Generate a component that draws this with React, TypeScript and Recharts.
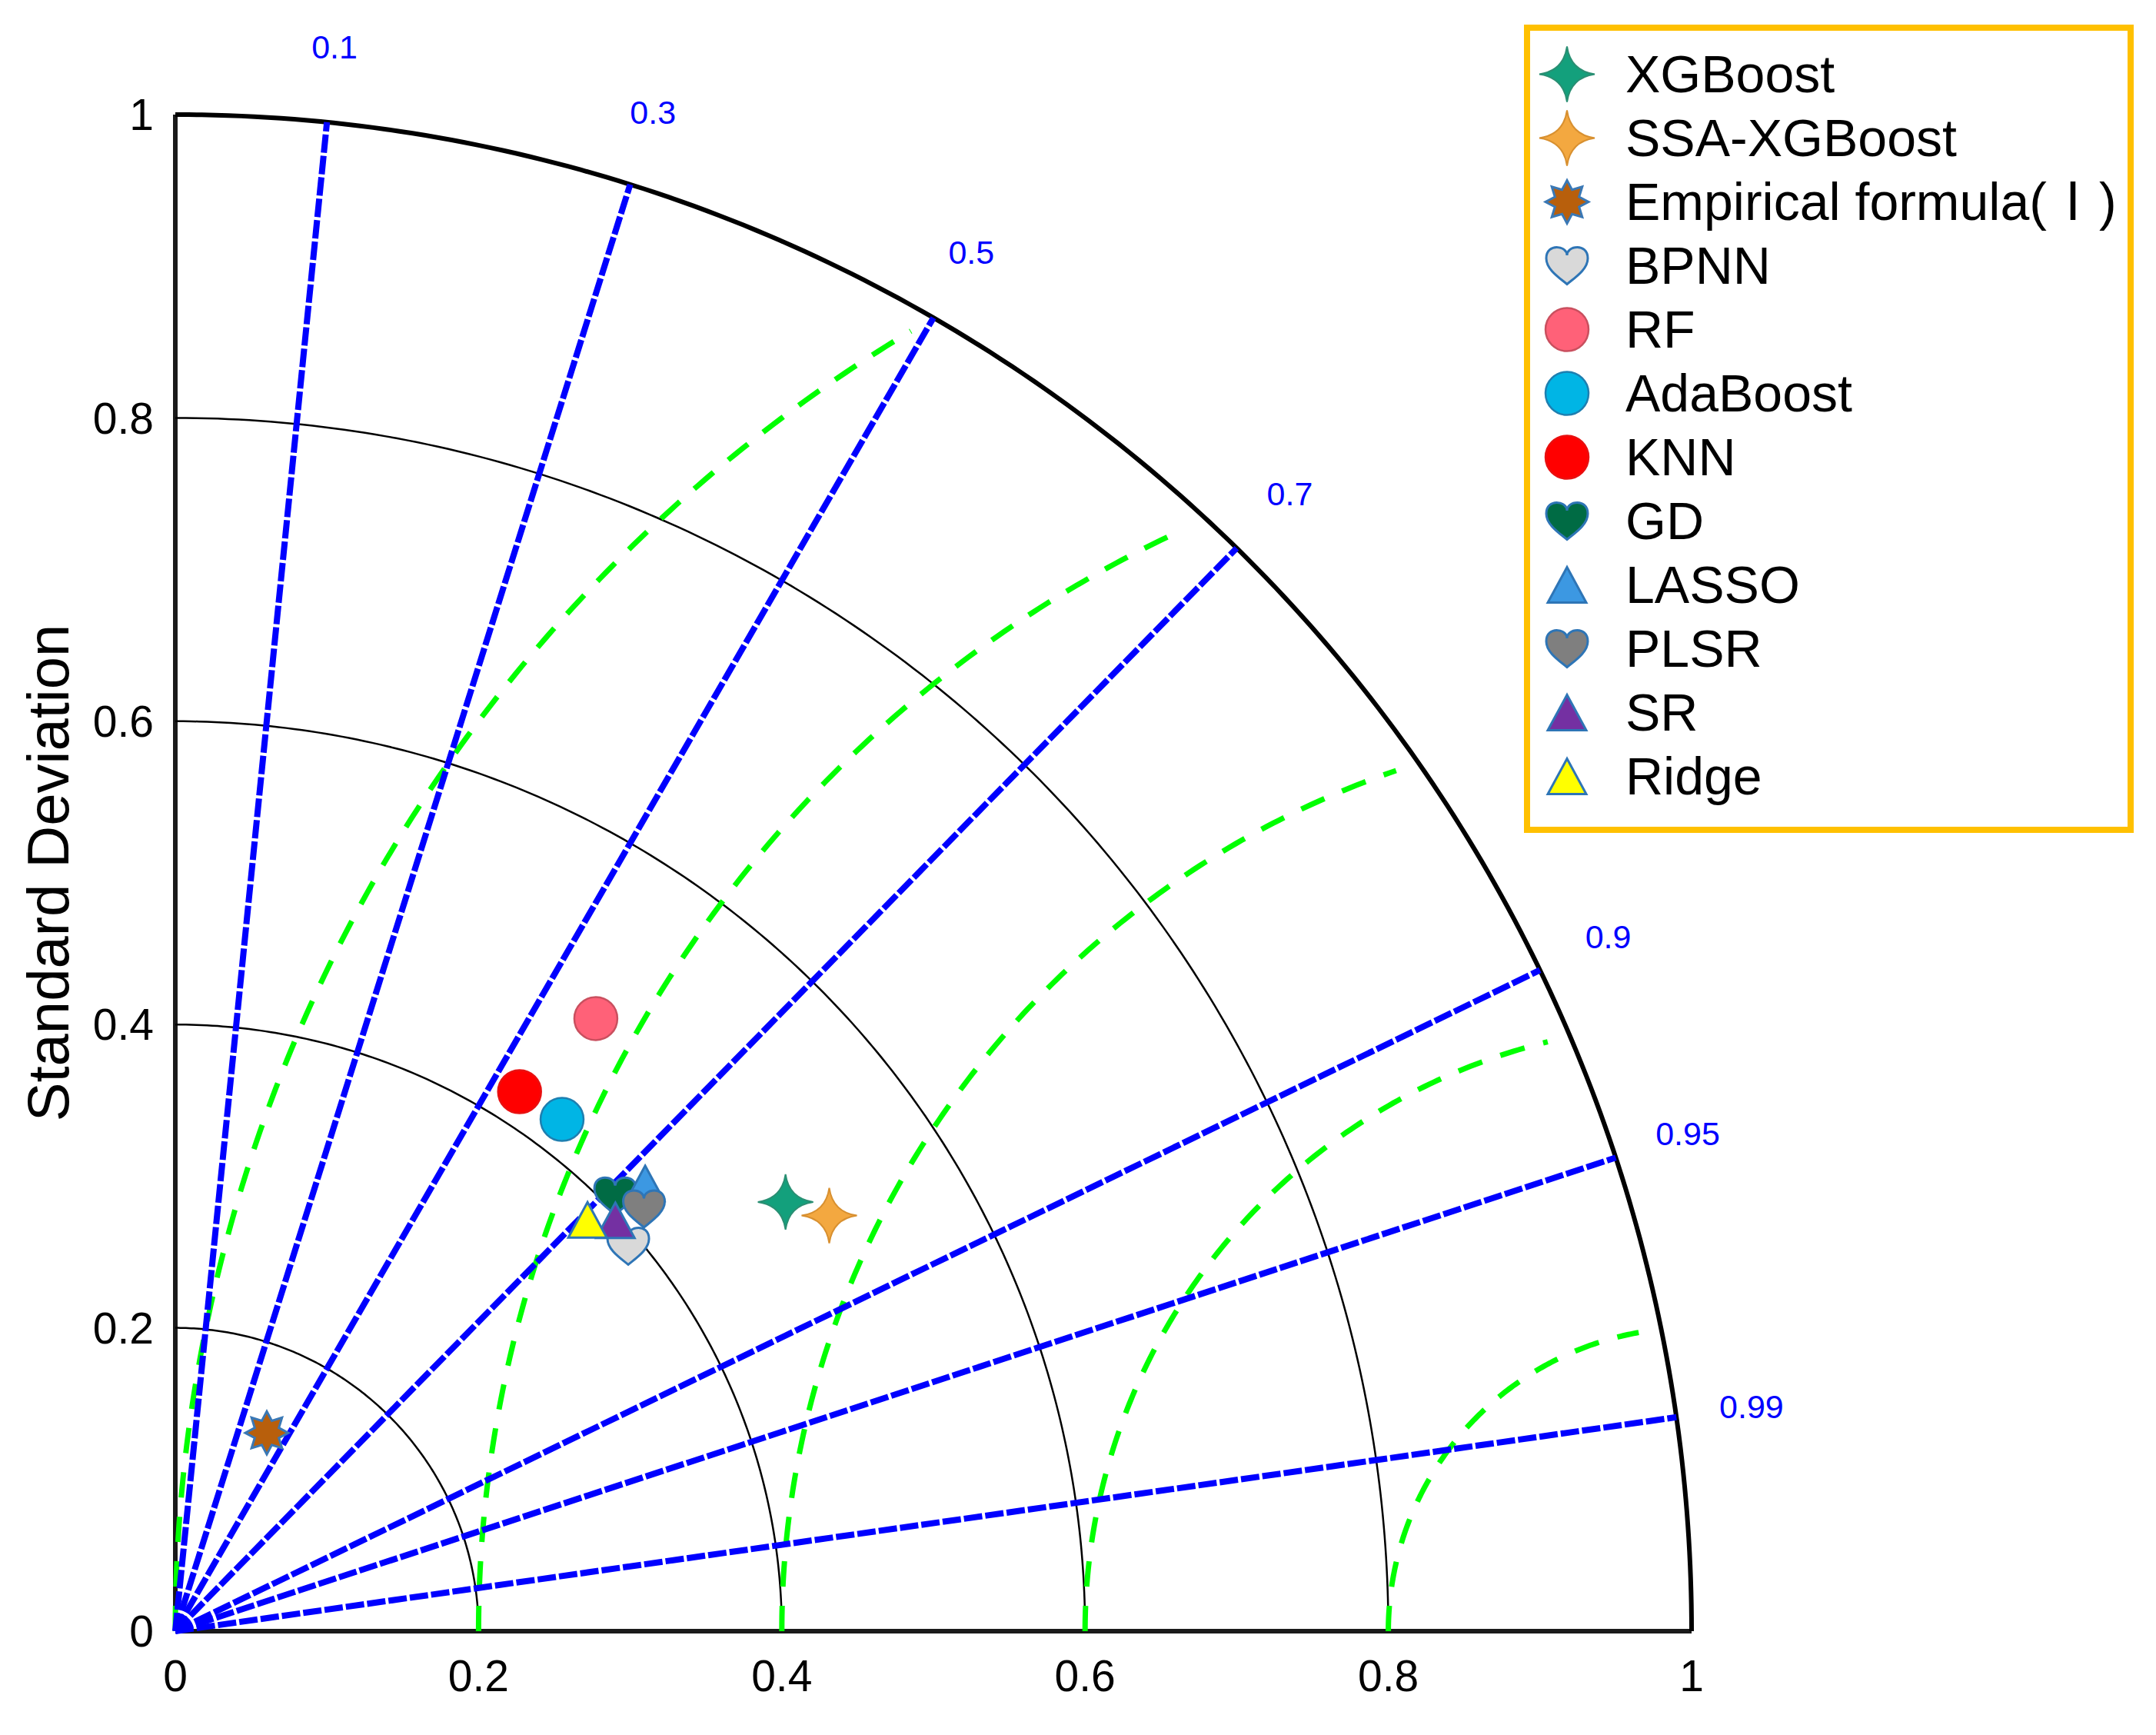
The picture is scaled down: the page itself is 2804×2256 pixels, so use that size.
import React from 'react';
import { ScatterChart, Scatter, XAxis, YAxis, Legend, ReferenceDot } from 'recharts';

// ---- data ----
const models = ['XGBoost', 'SSA-XGBoost', 'Empirical formula(Ⅰ)', 'BPNN', 'RF', 'AdaBoost', 'KNN', 'GD', 'LASSO', 'PLSR', 'SR', 'Ridge'];
const stdDev = [0.492, 0.511, 0.144, 0.392, 0.49, 0.423, 0.422, 0.408, 0.428, 0.416, 0.397, 0.384];
const correlation = [0.818, 0.844, 0.419, 0.762, 0.566, 0.603, 0.538, 0.711, 0.724, 0.743, 0.731, 0.708];
const markerKinds = ['star4', 'star4', 'star8', 'heart', 'circle', 'circle', 'circle', 'heart', 'triangle', 'heart', 'triangle', 'triangle'];
const fills = ['#13A07C', '#F3A840', '#B85F0C', '#D9D9D9', '#FF6178', '#00B5E5', '#FF0000', '#006B44', '#3C98E2', '#7F7F7F', '#7430A2', '#FFFF00'];
const strokes = ['#2A8F73', '#D89030', '#3A78B5', '#2E75B6', '#C9505F', '#1E7FB0', '#E81010', '#2E75B6', '#2E75B6', '#2E75B6', '#2E75B6', '#2E75B6'];

// ---- grid definitions ----
const stdTicks = [0, 0.2, 0.4, 0.6, 0.8, 1];
const stdArcs = [0.2, 0.4, 0.6, 0.8];
const outerStd = 1;
const corrTicks = [0.1, 0.3, 0.5, 0.7, 0.9, 0.95, 0.99];
const rmsArcs = [0.2, 0.4, 0.6, 0.8, 1.0];
const refStd = 1;

const clamp = (v: number) => Math.max(0, Math.min(1, v));

const stdArcPoints = (r: number) => {
  const pts = [];
  for (let i = 0; i <= 180; i++) {
    const a = (Math.PI / 2) * (i / 180);
    pts.push({ x: clamp(r * Math.cos(a)), y: clamp(r * Math.sin(a)) });
  }
  return pts;
};

const rmsArcPoints = (r: number) => {
  const R = 0.985;
  const xe = (R * R - r * r + refStd * refStd) / (2 * refStd);
  const ye = Math.sqrt(Math.max(0, R * R - xe * xe));
  const phiEnd = Math.atan2(ye, xe - refStd);
  const pts = [];
  const n = 160;
  for (let i = 0; i <= n; i++) {
    const phi = Math.PI - (Math.PI - phiEnd) * (i / n);
    pts.push({ x: clamp(refStd + r * Math.cos(phi)), y: clamp(r * Math.sin(phi)) });
  }
  return pts;
};

const rayPoints = (c: number) => [
  { x: 0, y: 0 },
  { x: clamp(outerStd * c), y: clamp(outerStd * Math.sqrt(1 - c * c)) },
];

const modelData = models.map((name, i) => ({
  name,
  x: stdDev[i] * correlation[i],
  y: stdDev[i] * Math.sqrt(1 - correlation[i] * correlation[i]),
}));

const FONT = '"Liberation Sans", Arial, "Noto Sans CJK SC", sans-serif';

const Empty = () => <g />;

function heartPath(cx: number, cy: number, w: number, h: number) {
  const p = (x: number, y: number) => `${cx + x * w},${cy + y * h}`;
  return (
    `M${p(0, 0.5)} ` +
    `C${p(-0.18, 0.33)} ${p(-0.5, 0.1)} ${p(-0.5, -0.2)} ` +
    `C${p(-0.5, -0.42)} ${p(-0.36, -0.5)} ${p(-0.25, -0.5)} ` +
    `C${p(-0.1, -0.5)} ${p(0, -0.4)} ${p(0, -0.28)} ` +
    `C${p(0, -0.4)} ${p(0.1, -0.5)} ${p(0.25, -0.5)} ` +
    `C${p(0.36, -0.5)} ${p(0.5, -0.42)} ${p(0.5, -0.2)} ` +
    `C${p(0.5, 0.1)} ${p(0.18, 0.33)} ${p(0, 0.5)} Z`
  );
}

function Marker({ kind, cx, cy, fill, stroke }: any) {
  if (cx == null || cy == null) return <g />;
  switch (kind) {
    case 'circle':
      return <circle cx={cx} cy={cy} r={28} fill={fill} stroke={stroke} strokeWidth={2.5} />;
    case 'triangle': {
      const w = 50, h = 46;
      return (
        <polygon
          points={`${cx},${cy - h / 2} ${cx + w / 2},${cy + h / 2} ${cx - w / 2},${cy + h / 2}`}
          fill={fill}
          stroke={stroke}
          strokeWidth={3}
          strokeLinejoin="miter"
        />
      );
    }
    case 'heart':
      return <path d={heartPath(cx, cy, 54, 48)} fill={fill} stroke={stroke} strokeWidth={3} />;
    case 'star4': {
      const R = 36, k = 4.5;
      const d = `M${cx},${cy - R} Q${cx + k},${cy - k} ${cx + R},${cy} Q${cx + k},${cy + k} ${cx},${cy + R} Q${cx - k},${cy + k} ${cx - R},${cy} Q${cx - k},${cy - k} ${cx},${cy - R} Z`;
      return <path d={d} fill={fill} stroke={stroke} strokeWidth={2} />;
    }
    case 'star8': {
      const pts = [];
      for (let i = 0; i < 16; i++) {
        const a = -Math.PI / 2 + (i * Math.PI) / 8;
        const r = i % 2 === 0 ? 28 : 17;
        pts.push(`${cx + r * Math.cos(a)},${cy + r * Math.sin(a)}`);
      }
      return <polygon points={pts.join(' ')} fill={fill} stroke={stroke} strokeWidth={3} />;
    }
    default:
      return <g />;
  }
}

const renderLegend = () => (
  <div
    style={{
      boxSizing: 'border-box',
      width: 793,
      height: 1051,
      border: '8px solid #FFC000',
      background: '#fff',
      paddingTop: 15,
      fontFamily: FONT,
    }}
  >
    {models.map((name, i) => (
      <div key={name} style={{ display: 'flex', alignItems: 'center', height: 83 }}>
        <svg width={96} height={83} style={{ display: 'block', flex: '0 0 auto' }}>
          <Marker kind={markerKinds[i]} cx={48} cy={41.5} fill={fills[i]} stroke={strokes[i]} />
        </svg>
        <span style={{ marginLeft: 28, fontSize: 68, color: '#000', whiteSpace: 'nowrap', lineHeight: '83px' }}>{name}</span>
      </div>
    ))}
  </div>
);

const yLabel = (p: any) => {
  const vb = p.viewBox || { x: 10, y: 141, width: 210, height: 1972 };
  const x = vb.x + 44;
  const y = vb.y + vb.height / 2;
  return (
    <text
      x={x}
      y={y}
      transform={`rotate(-90 ${x} ${y})`}
      textAnchor="middle"
      dominantBaseline="central"
      fontSize={76}
      fill="#000"
      fontFamily={FONT}
    >
      Standard Deviation
    </text>
  );
};

export default function App() {
  return (
    <div style={{ width: 2796, height: 2240, background: '#fff', fontFamily: FONT, position: 'relative' }}>
      <ScatterChart width={2796} height={2240} margin={{ top: 141, right: 604, bottom: 27, left: 10 }}>
        <XAxis
          type="number"
          dataKey="x"
          domain={[0, 1]}
          ticks={stdTicks}
          tickFormatter={(v: number) => String(v)}
          height={100}
          tickLine={false}
          tickMargin={32}
          axisLine={{ stroke: '#1a1a1a', strokeWidth: 6 }}
          tick={{ fontSize: 57, fill: '#000', fontFamily: FONT }}
        />
        <YAxis
          type="number"
          dataKey="y"
          domain={[0, 1]}
          ticks={stdTicks}
          tickFormatter={(v: number) => String(v)}
          width={210}
          tickLine={false}
          tickMargin={22}
          axisLine={{ stroke: '#1a1a1a', strokeWidth: 6 }}
          tick={{ fontSize: 57, fill: '#000', fontFamily: FONT }}
          label={{ content: yLabel }}
        />
        <Legend
          layout="vertical"
          align="center"
          verticalAlign="middle"
          content={renderLegend}
          wrapperStyle={{ position: 'absolute', left: 1974, top: 24, width: 793, height: 1051 }}
        />

        {stdArcs.map((r) => (
          <Scatter
            key={'std' + r}
            data={stdArcPoints(r)}
            fill="none"
            line={{ stroke: '#000', strokeWidth: 2.5, fill: 'none' }}
            lineType="joint"
            shape={Empty}
            legendType="none"
            isAnimationActive={false}
          />
        ))}
        <Scatter
          data={stdArcPoints(outerStd)}
          fill="none"
          line={{ stroke: '#000', strokeWidth: 6, fill: 'none' }}
          lineType="joint"
          shape={Empty}
          legendType="none"
          isAnimationActive={false}
        />
        {rmsArcs.map((r) => (
          <Scatter
            key={'rms' + r}
            data={rmsArcPoints(r)}
            fill="none"
            line={{ stroke: '#00FF00', strokeWidth: 7, strokeDasharray: '33 25', fill: 'none' }}
            lineType="joint"
            shape={Empty}
            legendType="none"
            isAnimationActive={false}
          />
        ))}
        {corrTicks.map((c) => (
          <Scatter
            key={'ray' + c}
            data={rayPoints(c)}
            fill="none"
            line={{ stroke: '#0000FF', strokeWidth: 8, strokeDasharray: '24 4', fill: 'none' }}
            lineType="joint"
            shape={Empty}
            legendType="none"
            isAnimationActive={false}
          />
        ))}
        {corrTicks.map((c) => (
          <ReferenceDot
            key={'lab' + c}
            x={1.05 * c}
            y={1.05 * Math.sqrt(1 - c * c)}
            r={0}
            ifOverflow="visible"
            shape={(p: any) => (
              <text
                x={p.cx}
                y={p.cy}
                textAnchor="middle"
                dominantBaseline="central"
                fontSize={43}
                fill="#0000FF"
                fontFamily={FONT}
              >
                {String(c)}
              </text>
            )}
          />
        ))}

        {modelData.map((d, i) => (
          <Scatter
            key={d.name}
            name={d.name}
            data={[d]}
            fill={fills[i]}
            shape={(p: any) => <Marker kind={markerKinds[i]} cx={p.cx} cy={p.cy} fill={fills[i]} stroke={strokes[i]} />}
            isAnimationActive={false}
          />
        ))}
      </ScatterChart>
    </div>
  );
}
